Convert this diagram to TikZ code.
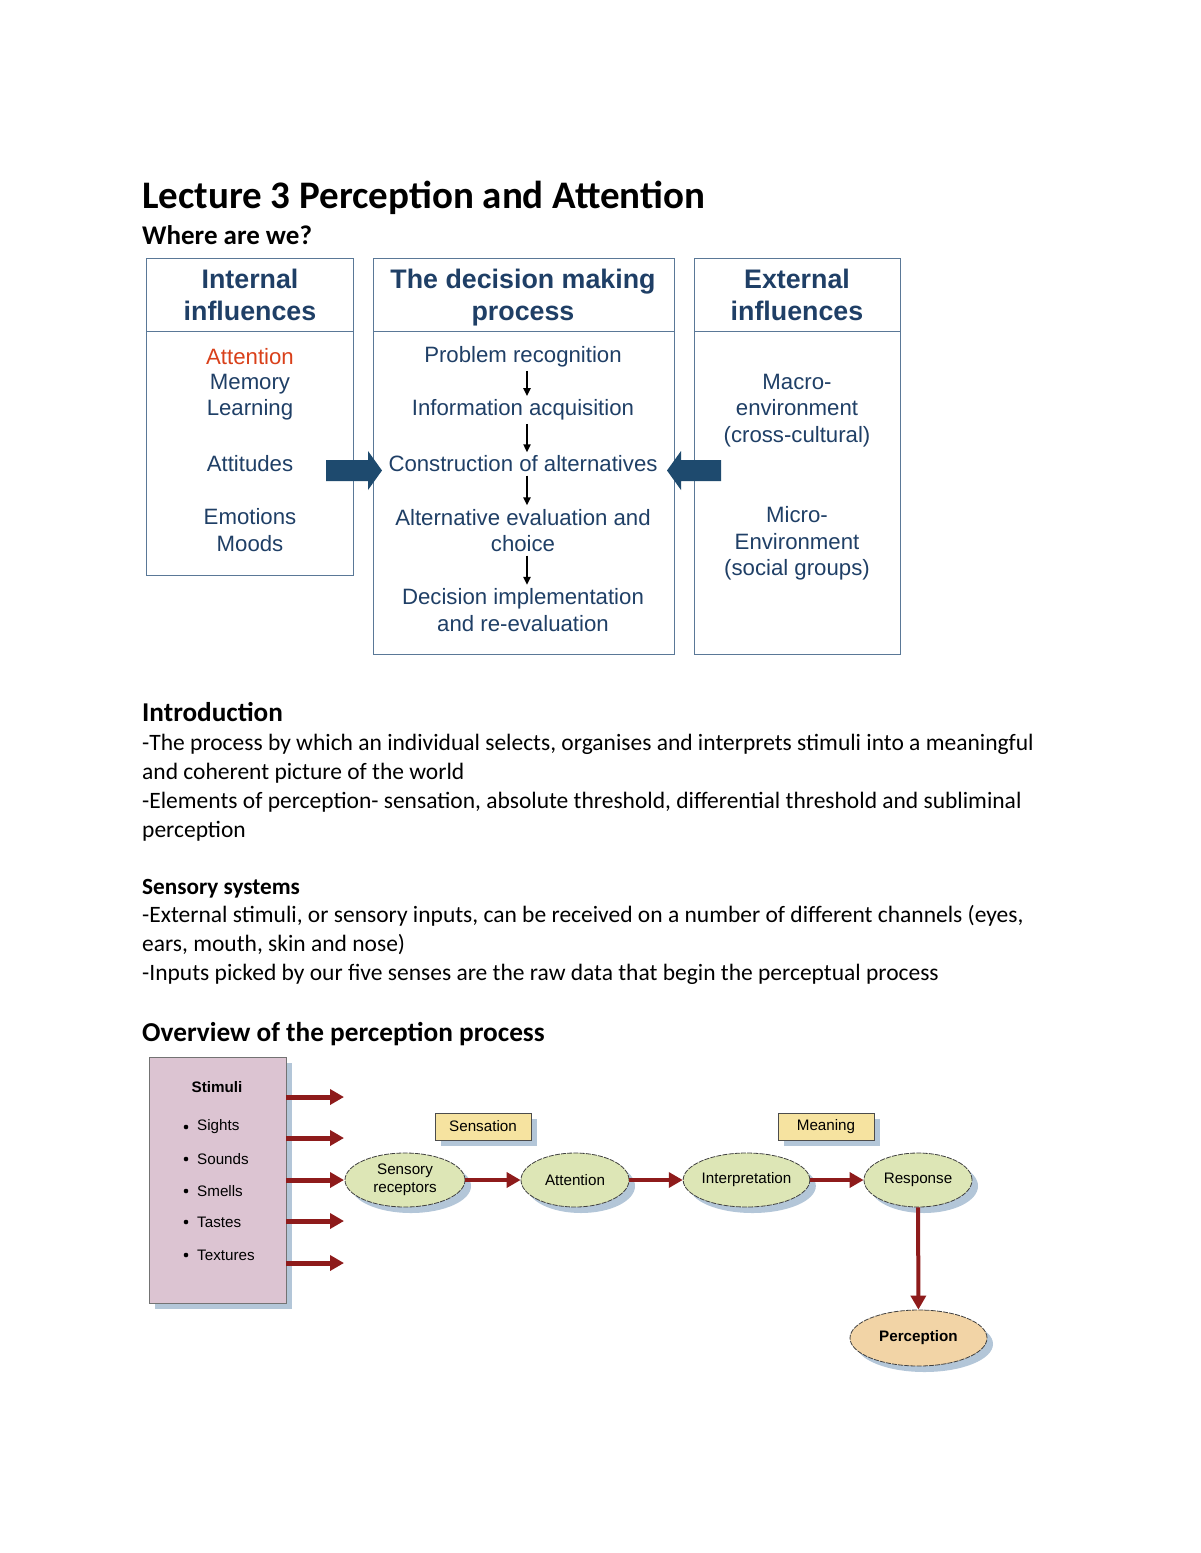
\documentclass[tikz,border=0pt]{standalone}
\usepackage{fontspec}
\setmainfont{Carlito}
\newfontfamily\arialf{Liberation Sans}
\usetikzlibrary{arrows.meta,shapes.geometric,shadows}
\definecolor{navy}{HTML}{1F3F66}
\definecolor{boxline}{HTML}{5A7897}
\definecolor{attred}{HTML}{D9401A}
\definecolor{bigarrow}{HTML}{1E4A6E}
\definecolor{darkred}{HTML}{8E1B1B}
\definecolor{stimfill}{HTML}{DCC4D2}
\definecolor{shadowc}{HTML}{B3C6D8}
\definecolor{labfill}{HTML}{F6E3A0}
\definecolor{ellfill}{HTML}{DDE6B6}
\definecolor{percfill}{HTML}{F2D4A6}
\begin{document}
\begin{tikzpicture}[x=1pt,y=-1pt,
  doc/.style={anchor=base west,inner sep=0pt,font=\fontsize{23.5}{28}\selectfont},
  dochead/.style={anchor=base west,inner sep=0pt,font=\bfseries\fontsize{27.2}{32}\selectfont},
  hbox/.style={draw=boxline,line width=1pt,inner sep=0pt},
  htext/.style={align=center,text=navy,font=\arialf\bfseries\fontsize{26.8}{32.5}\selectfont},
  btext/.style={align=center,text=navy,font=\arialf\fontsize{22.2}{26.7}\selectfont},
  smallarr/.style={line width=2pt,-{Triangle[length=8pt,width=7pt]}},
  redarr/.style={darkred,line width=5pt,-{Triangle[length=14pt,width=15pt]}},
  shad/.style={drop shadow={shadow xshift=6pt,shadow yshift=-6pt,fill=shadowc,opacity=1}},
  ell/.style={ellipse,shad,draw=black!75,line width=0.8pt,dash pattern=on 5pt off 1.2pt,fill=ellfill,inner sep=0pt,align=center,font=\arialf\fontsize{15.2}{18}\selectfont},
  lab/.style={rectangle,shad,draw=black!70,line width=0.9pt,fill=labfill,inner sep=0pt,minimum width=96pt,minimum height=27pt,font=\arialf\fontsize{15.2}{18}\selectfont}
]
\useasboundingbox (0,0) rectangle (1200,1553);
\fill[white] (0,0) rectangle (1200,1553);

% ---------- title ----------
\node[anchor=base west,inner sep=0pt,font=\bfseries\fontsize{39}{45}\selectfont] (title) at (142,208) {Lecture 3 Perception and Attention};
\node[anchor=base west,inner sep=0pt,font=\bfseries\fontsize{27}{32}\selectfont] (where) at (142,244) {Where are we?};

% ---------- diagram 1 ----------
\node[hbox,minimum width=207pt,minimum height=73pt] (lhead) at (249.5,294.5) {};
\node[hbox,minimum width=207pt,minimum height=244pt] (lbody) at (249.5,453) {};
\node[hbox,minimum width=301pt,minimum height=73pt] (mhead) at (523.5,294.5) {};
\node[hbox,minimum width=301pt,minimum height=323pt] (mbody) at (523.5,492.5) {};
\node[hbox,minimum width=206pt,minimum height=73pt] (rhead) at (797,294.5) {};
\node[hbox,minimum width=206pt,minimum height=323pt] (rbody) at (797,492.5) {};

\node[htext] (lht) at (250,295) {Internal\\influences};
\node[htext] (mht) at (523,297.5) {The decision making\\process};
\node[htext] (rht) at (797,295) {External\\influences};

\node[btext,text=attred] (att) at (250,357) {Attention};
\node[btext] (mem) at (250,384) {Memory};
\node[btext] (lea) at (250,410) {Learning};
\node[btext] (atd) at (250,464) {Attitudes};
\node[btext] (emo) at (250,517) {Emotions};
\node[btext] (moo) at (250,544) {Moods};

\node[btext] (pr) at (523,357) {Problem recognition};
\node[btext] (ia) at (523,410) {Information acquisition};
\node[btext] (ca) at (523,464) {Construction of alternatives};
\node[btext] (ae) at (523,530.5) {Alternative evaluation and\\choice};
\node[btext] (di) at (523,610) {Decision implementation\\and re-evaluation};

\draw[smallarr] ([xshift=4pt]pr.south) -- ([xshift=4pt]ia.north);
\draw[smallarr] ([xshift=4pt]ia.south) -- ([xshift=4pt]ca.north);
\draw[smallarr] ([xshift=4pt]ca.south) -- ([xshift=4pt]ae.north);
\draw[smallarr] ([xshift=4pt]ae.south) -- ([xshift=4pt]di.north);

\node[btext] (mac) at (797,410.5) {Macro-\\environment\\(cross-cultural)};
\node[btext] (mic) at (797,543.5) {Micro-\\Environment\\(social groups)};

\fill[bigarrow] (326,460) -- (368,460) -- (368,451) -- (382,470.5) -- (368,490) -- (368,481) -- (326,481) -- cycle;
\fill[bigarrow] (721,460) -- (681,460) -- (681,451) -- (667,470.5) -- (681,490) -- (681,481) -- (721,481) -- cycle;

% ---------- text ----------
\node[dochead] (intro) at (142,721) {Introduction};
\node[doc] (l1) at (142,750) {-The process by which an individual selects, organises and interprets stimuli into a meaningful};
\node[doc] (l2) at (142,779) {and coherent picture of the world};
\node[doc] (l3) at (142,808) {-Elements of perception- sensation, absolute threshold, differential threshold and subliminal};
\node[doc] (l4) at (142,837) {perception};
\node[anchor=base west,inner sep=0pt,font=\bfseries\fontsize{23.2}{27}\selectfont] (sens) at (142,894) {Sensory systems};
\node[doc] (l5) at (142,922) {-External stimuli, or sensory inputs, can be received on a number of different channels (eyes,};
\node[doc] (l6) at (142,951) {ears, mouth, skin and nose)};
\node[doc] (l7) at (142,980) {-Inputs picked by our five senses are the raw data that begin the perceptual process};
\node[anchor=base west,inner sep=0pt,font=\bfseries\fontsize{27.3}{32}\selectfont] (over) at (142,1041) {Overview of the perception process};

% ---------- diagram 2 ----------
\node[rectangle,shad,draw=black!55,line width=0.9pt,fill=stimfill,minimum width=137pt,minimum height=246pt,inner sep=0pt] (stim) at (217.5,1180) {};
\node[font=\arialf\bfseries\fontsize{15.2}{18}\selectfont] (stimt) at (217,1087) {Stimuli};
\foreach \t/\y/\n in {Sights/1127/s1,Sounds/1159/s2,Smells/1191/s3,Tastes/1222/s4,Textures/1255/s5}{
  \node[anchor=west,inner sep=0pt,font=\arialf\fontsize{15.2}{18}\selectfont] (\n) at (197,\y) {\t};
  \fill (186,\y) circle (2.3pt);
}
\foreach \y/\n in {1097/a1,1138/a2,1180/a3,1221/a4,1263/a5}{
  \coordinate (\n) at (344,\y);
  \draw[redarr] (stim.east |- \n) -- (\n);
}

\node[lab] (sensation) at (483,1126.5) {Sensation};
\node[lab] (meaning) at (826,1126.5) {Meaning};

\node[ell,minimum width=120pt,minimum height=54pt] (sr) at (405,1180) {Sensory\\receptors};
\node[ell,minimum width=108pt,minimum height=54pt] (at) at (575,1180) {Attention};
\node[ell,minimum width=119pt,minimum height=54pt] (in) at (746.5,1180) {Interpretation};
\node[ell,minimum width=108pt,minimum height=54pt] (re) at (918,1180) {Response};
\node[ell,fill=percfill,minimum width=137pt,minimum height=56pt,font=\arialf\bfseries\fontsize{15.2}{18}\selectfont] (pe) at (918.5,1338) {Perception};

\draw[redarr,line width=4pt] (sr) -- (at);
\draw[redarr,line width=4pt] (at) -- (in);
\draw[redarr,line width=4pt] (in) -- (re);
\draw[redarr,line width=4pt] (re) -- (pe);
\end{tikzpicture}
\end{document}
